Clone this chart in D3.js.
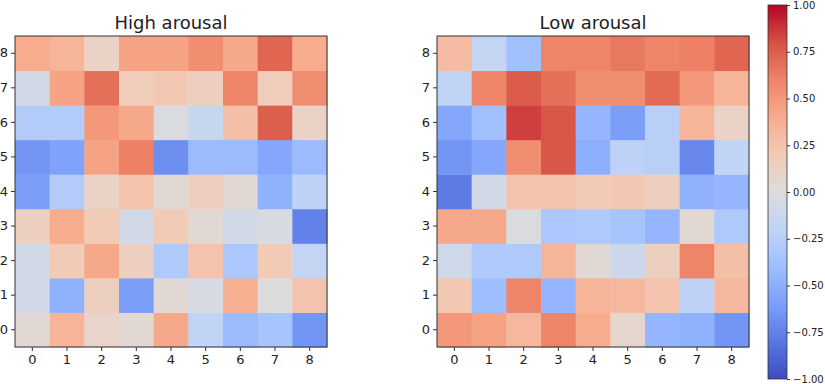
<!DOCTYPE html>
<html>
<head>
<meta charset="utf-8">
<script src="https://cdn.jsdelivr.net/npm/d3@7"></script>
<style>
  body { margin: 0; background: #fff; }
  text { font-family: "DejaVu Sans", sans-serif; fill: #222; }
  .axis path, .axis line { stroke: #333; }
</style>
</head>
<body>
<script>
// Heatmap values, rows indexed by y (0 = bottom), columns by x

var cells = ["0", "1", "2", "3", "4", "5", "6", "7", "8"];

var highArousal = [
  [ 0.05,  0.35,  0.10,  0.05,  0.42, -0.20, -0.42, -0.35, -0.65],
  [-0.08, -0.48,  0.15, -0.60,  0.05, -0.05,  0.38,  0.00,  0.25],
  [-0.08,  0.20,  0.42,  0.15, -0.30,  0.25, -0.32,  0.20, -0.18],
  [ 0.15,  0.40,  0.20, -0.08,  0.20,  0.05, -0.08, -0.04, -0.75],
  [-0.60, -0.28,  0.12,  0.25,  0.05,  0.15,  0.05, -0.48, -0.22],
  [-0.65, -0.58,  0.45,  0.62, -0.68, -0.42, -0.42, -0.55, -0.42],
  [-0.28, -0.28,  0.50,  0.42, -0.02, -0.15,  0.28,  0.75,  0.12],
  [-0.08,  0.45,  0.68,  0.18,  0.22,  0.15,  0.60,  0.18,  0.55],
  [ 0.40,  0.35,  0.12,  0.45,  0.45,  0.55,  0.42,  0.72,  0.40]
];

var lowArousal = [
  [ 0.50,  0.45,  0.32,  0.60,  0.40,  0.08, -0.45, -0.48, -0.65],
  [ 0.22, -0.40,  0.60, -0.45,  0.35,  0.32,  0.25, -0.22,  0.32],
  [-0.10, -0.30, -0.30,  0.35,  0.05, -0.12,  0.15,  0.60,  0.28],
  [ 0.42,  0.42, -0.02, -0.32, -0.30, -0.35, -0.45,  0.05, -0.30],
  [-0.78, -0.08,  0.25,  0.25,  0.20,  0.22,  0.15, -0.48, -0.45],
  [-0.65, -0.55,  0.55,  0.78, -0.50, -0.22, -0.25, -0.72, -0.20],
  [-0.55, -0.38,  0.85,  0.78, -0.45, -0.60, -0.25,  0.35,  0.12],
  [-0.20,  0.60,  0.76,  0.68,  0.55,  0.55,  0.70,  0.50,  0.35],
  [ 0.30, -0.18, -0.38,  0.60,  0.60,  0.65,  0.60,  0.62,  0.72]
];

var colorbarTicks = [1, 0.75, 0.5, 0.25, 0, -0.25, -0.5, -0.75, -1];

// coolwarm approximation
var coolwarm = ["#3b4cc0", "#5977e3", "#7b9ff9", "#9ebeff", "#c0d4f5", "#dddcdc",
                "#f2cbb7", "#f7ac8e", "#ee8468", "#d65244", "#b40426"];
var color = d3.scaleLinear()
    .domain(d3.range(11).map(function(i) { return -1 + i * 0.2; }))
    .range(coolwarm)
    .clamp(true);

var svg = d3.select("body").append("svg")
    .attr("width", 825)
    .attr("height", 384);

function drawHeatmap(data, title, left) {
  var x = d3.scaleBand().domain(cells).range([left, left + 312]);
  var y = d3.scaleBand().domain(cells).range([347, 36]);

  var g = svg.append("g");
  data.forEach(function(row, yi) {
    g.selectAll(null)
      .data(row)
      .enter().append("rect")
      .attr("x", function(d, xi) { return x(cells[xi]); })
      .attr("y", y(cells[yi]))
      .attr("width", x.bandwidth() + 0.5)
      .attr("height", y.bandwidth() + 0.5)
      .attr("fill", function(d) { return color(d); });
  });

  g.append("rect")
    .attr("x", left).attr("y", 36)
    .attr("width", 312).attr("height", 311)
    .attr("fill", "none").attr("stroke", "#333").attr("stroke-width", 1);

  g.append("g")
    .attr("class", "axis")
    .attr("transform", "translate(0,347)")
    .call(d3.axisBottom(x).tickSize(4).tickPadding(4).tickSizeOuter(0))
    .call(function(a) { a.select(".domain").remove(); })
    .selectAll("text").style("font-size", "13px");

  g.append("g")
    .attr("class", "axis")
    .attr("transform", "translate(" + left + ",0)")
    .call(d3.axisLeft(y).tickSize(4).tickPadding(3).tickSizeOuter(0))
    .call(function(a) { a.select(".domain").remove(); })
    .selectAll("text").style("font-size", "13px");

  g.append("text")
    .attr("x", left + 156)
    .attr("y", 29)
    .attr("text-anchor", "middle")
    .style("font-size", "18px")
    .text(title);
}

drawHeatmap(highArousal, "High arousal", 15);
drawHeatmap(lowArousal, "Low arousal", 437);

// Colorbar
var cb = d3.scaleLinear().domain([-1, 1]).range([379, 5]);
var grad = svg.append("defs").append("linearGradient")
    .attr("id", "cbgrad")
    .attr("x1", 0).attr("y1", 1).attr("x2", 0).attr("y2", 0);
grad.selectAll("stop")
  .data(coolwarm)
  .enter().append("stop")
  .attr("offset", function(d, i) { return i / 10; })
  .attr("stop-color", function(d) { return d; });

svg.append("rect")
  .attr("x", 768).attr("y", 5)
  .attr("width", 19).attr("height", 374)
  .attr("fill", "url(#cbgrad)")
  .attr("stroke", "#333").attr("stroke-width", 0.8);

svg.append("g")
  .attr("class", "axis")
  .attr("transform", "translate(787,0)")
  .call(d3.axisRight(cb).tickValues(colorbarTicks).tickSize(3).tickPadding(3)
        .tickSizeOuter(0)
        .tickFormat(function(d) { return d3.format(".2f")(d).replace("-", "\u2212"); }))
  .call(function(a) { a.select(".domain").remove(); })
  .selectAll("text").style("font-size", "10px");
</script>
</body>
</html>
